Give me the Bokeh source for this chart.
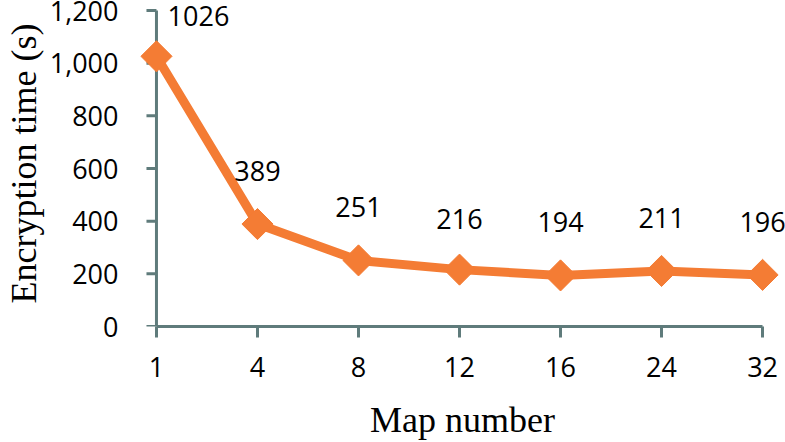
import math
from bokeh.plotting import figure
from bokeh.models import (Range1d, FixedTicker, NumeralTickFormatter,
                          ColumnDataSource, LabelSet)
from bokeh.core.properties import value
from bokeh.embed import file_html
from bokeh.resources import INLINE

# ---- data ----
map_numbers = ["1", "4", "8", "12", "16", "24", "32"]
enc_times = [1026, 389, 251, 216, 194, 211, 196]
y_ticks = [0, 200, 400, 600, 800, 1000, 1200]
x_title = "Map number"
y_title = "Encryption time (s)"

# label offsets (screen px) - styling only
label_dx = [42, 0, 0, 0, 0, 0, 0]
label_dy = [40, 53, 53, 51, 53, 53, 53]

ORANGE = "#F47C34"
AXIS = "#5F7B7B"

xs = list(range(len(map_numbers)))
src = ColumnDataSource(dict(x=xs, y=enc_times,
                            txt=[str(v) for v in enc_times],
                            dx=label_dx, dy=label_dy))

p = figure(width=785, height=442, output_backend="svg", toolbar_location=None,
           x_range=Range1d(-0.168, len(xs) - 1 + 0.227),
           y_range=Range1d(0, 1238),
           min_border_left=138, min_border_right=0,
           min_border_top=0, min_border_bottom=115)
p.outline_line_color = None
p.grid.visible = False
p.background_fill_color = "white"
p.border_fill_color = "white"

# y axis line and outward ticks at x = first category
p.segment(x0=[xs[0]], y0=[y_ticks[0]], x1=[xs[0]], y1=[y_ticks[-1]],
          line_color=AXIS, line_width=3)
p.ray(x=[xs[0]] * len(y_ticks), y=y_ticks, length=10, length_units="screen",
      angle=math.pi, line_color=AXIS, line_width=3)

p.line("x", "y", source=src, line_width=9, line_color=ORANGE)
p.scatter("x", "y", source=src, marker="square", angle=math.pi / 4, size=22,
          fill_color=ORANGE, line_color=ORANGE, line_width=1)

# x axis
xa = p.xaxis[0]
xa.ticker = FixedTicker(ticks=xs)
xa.major_label_overrides = {i: s for i, s in zip(xs, map_numbers)}
xa.bounds = (0, len(xs) - 1)
xa.minor_tick_line_color = None
xa.major_tick_in = 0
xa.major_tick_out = 11
xa.axis_line_color = AXIS
xa.axis_line_width = 3
xa.major_tick_line_color = AXIS
xa.major_tick_line_width = 3
xa.major_label_text_font = "Open Sans"
xa.major_label_text_font_size = "27px"
xa.major_label_text_color = "black"
xa.major_label_standoff = 19
xa.axis_label = x_title
xa.axis_label_text_font = "Liberation Serif"
xa.axis_label_text_font_size = "36px"
xa.axis_label_text_font_style = "normal"
xa.axis_label_text_color = "black"
xa.axis_label_standoff = 20

# y axis (labels only; line/ticks drawn at x = first category)
ya = p.yaxis[0]
ya.ticker = FixedTicker(ticks=y_ticks)
ya.formatter = NumeralTickFormatter(format="0,0")
ya.minor_tick_line_color = None
ya.major_tick_line_color = None
ya.axis_line_color = None
ya.major_tick_in = 0
ya.major_tick_out = 0
ya.major_label_text_font = "Open Sans"
ya.major_label_text_font_size = "27px"
ya.major_label_text_color = "black"
ya.major_label_standoff = 21
ya.axis_label = y_title
ya.axis_label_text_font = "Liberation Serif"
ya.axis_label_text_font_size = "36px"
ya.axis_label_text_font_style = "normal"
ya.axis_label_text_color = "black"
ya.axis_label_standoff = 3

# data labels
labels = LabelSet(x="x", y="y", text="txt", source=src,
                  x_offset="dx", y_offset="dy",
                  text_align="center", text_baseline="middle",
                  text_font=value("Open Sans"), text_font_size="27px",
                  text_color="black")
p.add_layout(labels)

open("out.html", "w").write(file_html(p, INLINE))
